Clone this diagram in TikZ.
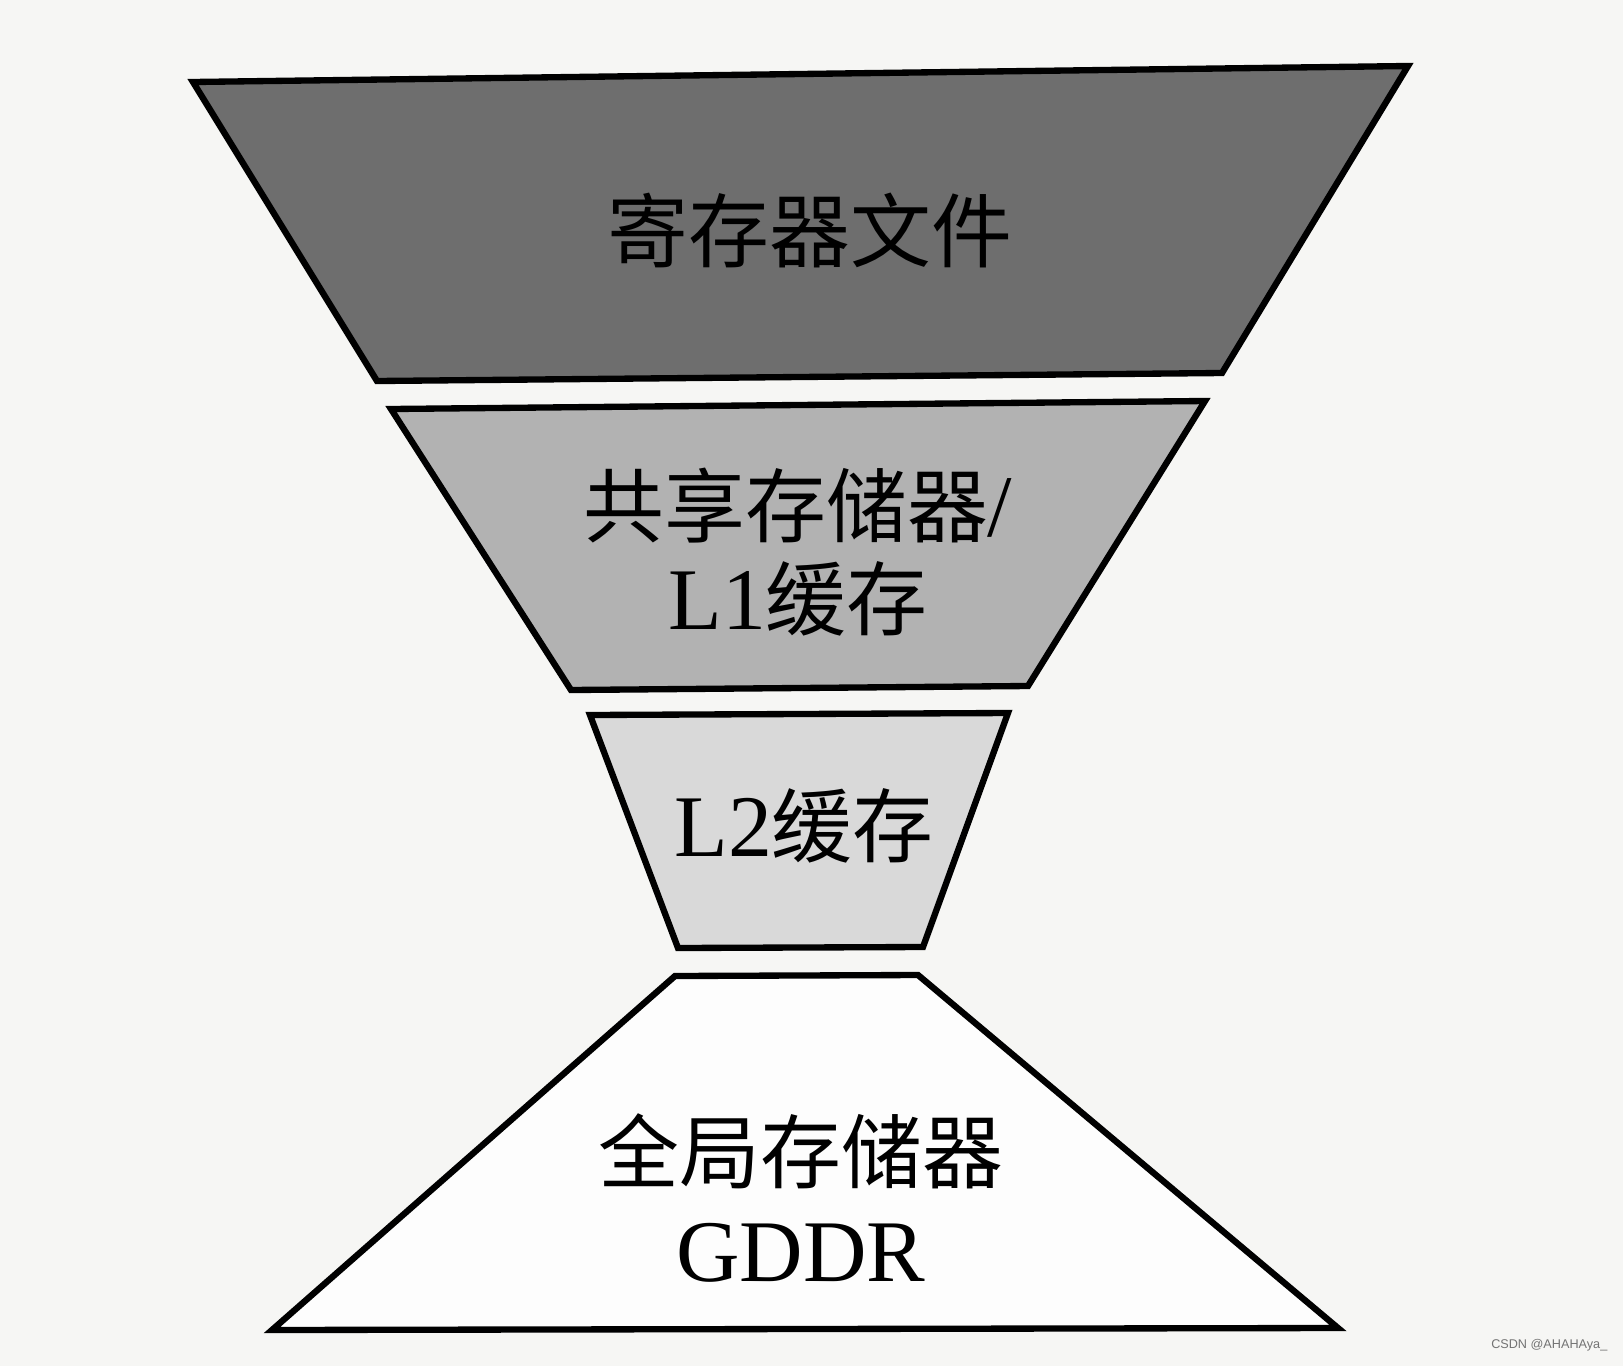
\documentclass[tikz,border=0pt]{standalone}
\usepackage{fontspec}
\setmainfont{Liberation Serif}
\newfontfamily\cjk[Scale=0.92]{Noto Sans CJK SC}
\newfontfamily\wmfont{Liberation Sans}
\usepackage{xcolor}
\usepackage{tikz}
\definecolor{paper}{HTML}{F6F6F4}
\definecolor{regfill}{HTML}{6E6E6E}
\definecolor{smemfill}{HTML}{B2B2B2}
\definecolor{ltwofill}{HTML}{D9D9D9}
\definecolor{gmemfill}{HTML}{FDFDFD}
\tikzset{
  layer/.style={draw=black,line width=1.8pt,line join=miter},
  lbl/.style={align=center,text=black,inner sep=0pt}
}

\begin{document}
\begin{tikzpicture}[x=0.01cm,y=-0.01cm,font=\fontsize{25}{26}\selectfont]
  \fill[paper] (0,0) rectangle (1623,1366);
  \useasboundingbox (0,0) rectangle (1623,1366);
  % --- Register file ---
  \filldraw[layer,fill=regfill] (193,82) -- (1408,66) -- (1222,373) -- (377,381) -- cycle;
  \node[lbl] (regfile) at (810,230) {\cjk 寄存器文件};
  % --- Shared memory / L1 ---
  \filldraw[layer,fill=smemfill] (391,409) -- (1205,401) -- (1028,686) -- (571,690) -- cycle;
  \node[lbl,font=\fontsize{25}{26.5}\selectfont] (smem) at (798,552) {{\cjk 共享存储器}/\\L1{\cjk 缓存}};
  % --- L2 ---
  \filldraw[layer,fill=ltwofill] (590,715) -- (1008,713) -- (923,947) -- (678,948) -- cycle;
  \node[lbl] (ltwo) at (804,826) {L2{\cjk 缓存}};
  % --- Global memory ---
  \filldraw[layer,fill=gmemfill] (675,976) -- (918,975) -- (1338,1328) -- (272,1330) -- cycle;
  \node[lbl,font=\fontsize{25}{28}\selectfont] (gmem) at (801,1198) {{\cjk 全局存储器}\\GDDR};
  % --- watermark ---
  \node[anchor=east,text=black!55,font=\wmfont\fontsize{3.6}{4}\selectfont,inner sep=0pt] (wmark) at (1608,1345) {CSDN @AHAHAya\_};
\end{tikzpicture}
\end{document}
